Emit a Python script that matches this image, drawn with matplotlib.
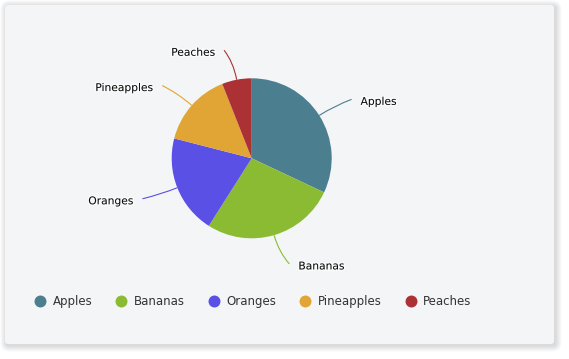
import numpy as np
import matplotlib.pyplot as plt
from matplotlib.patches import FancyBboxPatch, PathPatch
from matplotlib.path import Path
from matplotlib.lines import Line2D
import matplotlib.patheffects as pe

fruits = ['Apples', 'Bananas', 'Oranges', 'Pineapples', 'Peaches']
amounts = [32, 27, 20, 15, 6]
colors = ['#4b7e8e', '#8bbb33', '#5a50e5', '#e0a535', '#ab3134']

W, H = 569, 359
cx, cy, r = 251.7, 200.7, 80

fig = plt.figure(figsize=(W / 100, H / 100), dpi=100)
fig.patch.set_facecolor('white')
ax = fig.add_axes([0, 0, 1, 1])

# card with soft shadow
x0, y0, x1, y1 = 5, 15, 554, 354
for k in range(6, 0, -1):
    ax.add_patch(FancyBboxPatch((x0 - k + 1.5, y0 - k - 1.5), x1 - x0 + 2 * k, y1 - y0 + 2 * k,
                                boxstyle='round,pad=0,rounding_size=%d' % (3 + k),
                                facecolor='black', edgecolor='none', alpha=0.025, zorder=0))
ax.add_patch(FancyBboxPatch((x0, y0), x1 - x0, y1 - y0, boxstyle='round,pad=0,rounding_size=3',
                            facecolor='#f4f5f7', edgecolor='none', zorder=1))

wedges, _ = ax.pie(amounts, colors=colors, startangle=90, counterclock=False,
                   center=(cx, cy), radius=r, wedgeprops=dict(linewidth=0))
for w in wedges:
    w.set_zorder(2)

# curved leader lines and labels
for w, name, col in zip(wedges, fruits, colors):
    mid = np.deg2rad((w.theta1 + w.theta2) / 2)
    d = np.array([np.cos(mid), np.sin(mid)])
    side = 1 if d[0] >= 0 else -1
    p0 = np.array([cx, cy]) + r * d
    p1 = np.array([cx, cy]) + (r + 18) * d
    p2 = np.array([cx, cy]) + (r + 30) * d + np.array([side * 7, 0])
    path = Path([p0, p1, p2], [Path.MOVETO, Path.CURVE3, Path.CURVE3])
    ax.add_patch(PathPatch(path, facecolor='none', edgecolor=col, lw=0.8, zorder=3))
    ax.text(p2[0] + side * 9, p2[1] - 2.5, name, ha='left' if side > 0 else 'right',
            va='center', fontsize=7.7, color='#0a0a0a', zorder=4,
            path_effects=[pe.withStroke(linewidth=2, foreground='white', alpha=0.7)])

handles = [Line2D([], [], marker='o', linestyle='none', markersize=8.6,
                  markerfacecolor=c, markeredgecolor='none') for c in colors]
leg = ax.legend(handles, fruits, ncol=5, loc='center left', frameon=False,
                bbox_to_anchor=(34, 57.3), bbox_transform=ax.transData,
                borderaxespad=0, borderpad=0, handlelength=1.0, handletextpad=0.58,
                columnspacing=1.94, prop={'size': 8.5})
for t in leg.get_texts():
    t.set_color('#333333')

ax.set_xlim(0, W)
ax.set_ylim(0, H)
ax.set_aspect('auto')
ax.axis('off')

fig.savefig('out.png', dpi=100)
